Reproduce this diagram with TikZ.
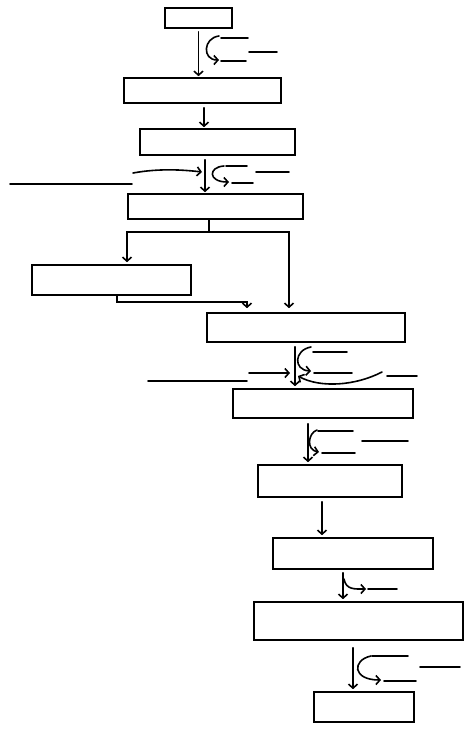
\documentclass[tikz,border=0pt]{standalone}
\usetikzlibrary{arrows.meta}
\begin{document}
\begin{tikzpicture}[x=1pt,y=-1pt,line width=1.6pt,line cap=round,
  box/.style={draw,rectangle,inner sep=0pt},
  arr/.style={-{Straight Barb[length=4pt,width=9pt]}}]
\useasboundingbox (0,0) rectangle (474,732);
% boxes
\node[box,minimum width=67pt,minimum height=20pt] (b1) at (198.5,18) {};
\node[box,minimum width=157pt,minimum height=25pt] (b2) at (202.5,90.5) {};
\node[box,minimum width=155pt,minimum height=26pt] (b3) at (217.5,142) {};
\node[box,minimum width=175pt,minimum height=25pt] (b4) at (215.5,206.5) {};
\node[box,minimum width=159pt,minimum height=30pt] (b5) at (111.5,280) {};
\node[box,minimum width=198pt,minimum height=29pt] (b6) at (306,327.5) {};
\node[box,minimum width=180pt,minimum height=29pt] (b7) at (323,403.5) {};
\node[box,minimum width=144pt,minimum height=32pt] (b8) at (330,481) {};
\node[box,minimum width=160pt,minimum height=31pt] (b9) at (353,553.5) {};
\node[box,minimum width=209pt,minimum height=38pt] (b10) at (358.5,621) {};
\node[box,minimum width=100pt,minimum height=30pt] (b11) at (364,707) {};
% main flow
\draw[arr] ([yshift=-3pt]b1.south) -- ([yshift=1pt]b1.south |- b2.north);
\draw[arr] ([xshift=1.5pt,yshift=-4pt]b2.south) -- ([xshift=1.5pt,yshift=1pt]b2.south |- b3.north);
\draw[arr] ([xshift=-12.5pt,yshift=-4pt]b3.south) -- ([xshift=-12.5pt,yshift=1pt]b3.south |- b4.north);
\coordinate (j) at (209,232);
\draw ([xshift=-6.5pt]b4.south) -- (j);
\draw[arr] (j) -| ([xshift=15.5pt,yshift=2pt]b5.north);
\draw[arr] (j) -| ([xshift=-17pt,yshift=4pt]b6.north);
\draw[arr] ([xshift=5.5pt]b5.south) -- ++(0,6) -| ([xshift=-59pt,yshift=4pt]b6.north);
\draw[arr] ([xshift=-11pt,yshift=-4pt]b6.south) -- ([xshift=-11pt,yshift=2pt]b6.south |- b7.north);
\draw[arr] ([xshift=-15pt,yshift=-5pt]b7.south) -- ([xshift=-15pt,yshift=2pt]b7.south |- b8.north);
\draw[arr] ([xshift=-8pt,yshift=-4pt]b8.south) -- ([xshift=-8pt,yshift=2pt]b8.south |- b9.north);
\draw[arr] ([xshift=-10pt,yshift=-3pt]b9.south) -- ([xshift=-10pt,yshift=2pt]b9.south |- b10.north);
\draw[arr] ([xshift=-5.5pt,yshift=-7pt]b10.south) -- ([xshift=-5.5pt,yshift=2pt]b10.south |- b11.north);
% side branches 1
\draw[arr] (219,36) .. controls (203,38) and (202,60) .. (219,60);
\draw (221,38) -- (248,38);
\draw (249,52) -- (277,52);
\draw (221,61) -- (246,61);
% side branches 2
\draw[arr] (133,173) .. controls (160,168) and (185,170) .. (202,172);
\draw (10,184) -- (132,184);
\draw[arr] (224,166) .. controls (208,167) and (208,182) .. (229,182);
\draw (226,166) -- (247,166);
\draw (256,172) -- (289,172);
\draw (232,183) -- (253,183);
% side branches 3
\draw[arr] (311,347) .. controls (294,350) and (293,370) .. (311,371);
\draw (313,352) -- (347,352);
\draw (314,373) -- (352,373);
\draw[arr] (249,373) -- (290,373);
\draw (148,381) -- (247,381);
\draw[arr] (382,372) .. controls (355,386) and (320,388) .. (298,376);
\draw (387,376) -- (417,376);
% side branches 4
\draw[arr] (317,430) .. controls (308,433) and (306,450) .. (319,452);
\draw (318,431) -- (353,431);
\draw (362,441) -- (408,441);
\draw (322,453) -- (355,453);
% side branches 5
\draw[arr] (344,579) .. controls (346,590) and (355,589) .. (366,589);
\draw (368,589) -- (397,589);
% side branches 6
\draw[arr] (371,656) .. controls (352,660) and (352,680) .. (381,680);
\draw (372,656) -- (408,656);
\draw (420,667) -- (460,667);
\draw (384,681) -- (416,681);
\end{tikzpicture}
\end{document}
